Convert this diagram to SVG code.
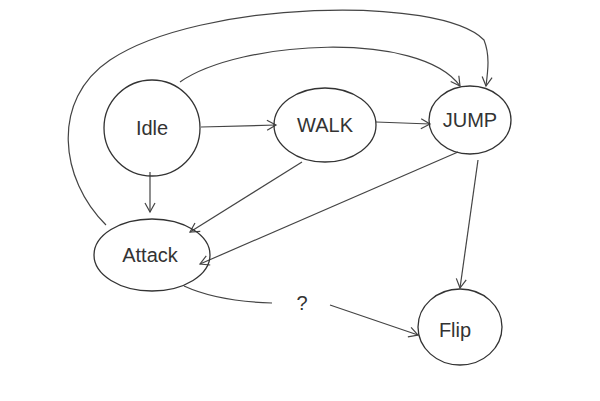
<svg xmlns="http://www.w3.org/2000/svg" width="600" height="401" viewBox="0 0 600 401">
<style>
.n{fill:none;stroke:#333;stroke-width:1.3}
.c{fill:none;stroke:#444;stroke-width:1.2}
.t{font-family:"Liberation Sans",sans-serif;font-size:20px;fill:#333;text-anchor:middle}
</style>
<defs><marker id="a" markerWidth="12" markerHeight="12" refX="10" refY="6" orient="auto" markerUnits="userSpaceOnUse"><path d="M1,1 L10,6 L1,11" fill="none" stroke="#444" stroke-width="1.2"/></marker></defs>
<rect width="600" height="401" fill="#fff"/>
<g id="connectors">
<path class="c" marker-end="url(#a)" d="M201,127 L276,125"/>
<path class="c" marker-end="url(#a)" d="M376,122 L430,124"/>
<path class="c" marker-end="url(#a)" d="M150,172 L150,212"/>
<path class="c" marker-end="url(#a)" d="M302,162 L190,232"/>
<path class="c" marker-end="url(#a)" d="M458,152 L200,264"/>
<path class="c" marker-end="url(#a)" d="M478,160 L460,288"/>
<path class="c" marker-end="url(#a)" d="M106,225 C60,180 50,100 110,60 C200,0 440,-5 484,40 C490,55 488,70 486,86"/>
<path class="c" marker-end="url(#a)" d="M180,82 C240,40 420,30 460,86"/>
<path class="c" d="M184,286 C210,298 240,302 272,303"/>
<path class="c" marker-end="url(#a)" d="M330,305 L418,335"/>
<text class="t" x="302" y="310" font-size="30">?</text>
</g>
<g id="idle"><circle class="n" cx="152" cy="128" r="48"/><text class="t" x="152" y="135">Idle</text></g>
<g id="walk"><ellipse class="n" cx="325" cy="125" rx="51" ry="37"/><text class="t" x="325" y="132">WALK</text></g>
<g id="jump"><ellipse class="n" cx="470" cy="120" rx="41" ry="34"/><text class="t" x="470" y="127">JUMP</text></g>
<g id="attack"><ellipse class="n" cx="152" cy="255" rx="58" ry="36"/><text class="t" x="150" y="262">Attack</text></g>
<g id="flip"><ellipse class="n" cx="460" cy="327" rx="42" ry="38"/><text class="t" x="455" y="337" font-size="26">Flip</text></g>
</svg>
